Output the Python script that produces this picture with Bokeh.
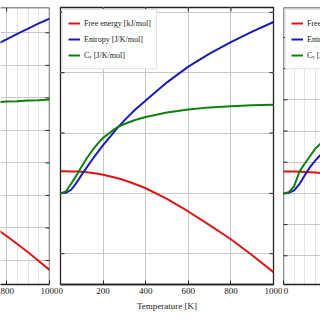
import math
from bokeh.plotting import figure
from bokeh.models import LinearAxis, FixedTicker, Range1d, Legend, LegendItem, Grid, Span
from bokeh.layouts import row
from bokeh.embed import file_html
from bokeh.resources import INLINE

# ---- data ----
# left panel (only its high-temperature tail is visible)
left_T = [760, 800, 850, 900, 950, 1000]
left_F = [-10.6, -12.5, -14.95, -17.5, -20.15, -22.9]
left_S = [46.7, 48.0, 49.7, 51.3, 52.9, 54.4]
left_Cv = [28.7, 28.9, 29.0, 29.2, 29.3, 29.5]

# middle panel
mid_T = [0, 25, 50, 75, 100, 125, 150, 175, 200, 250, 273, 300, 350, 400, 500, 600, 700, 800, 900, 1000]
mid_F = [3.65, 3.65, 3.64, 3.62, 3.57, 3.49, 3.38, 3.24, 3.08, 2.68, 2.46, 2.17, 1.55, 0.85, -0.9, -3.0, -5.25, -7.6, -10.25, -13.05]
mid_S = [0.0, 0.1, 0.6, 1.75, 3.1, 4.4, 5.65, 6.85, 8.0, 10.1, 11.05, 12.1, 13.85, 15.4, 18.4, 21.0, 23.15, 25.05, 26.8, 28.4]
mid_Cv = [0.0, 0.3, 1.6, 3.0, 4.5, 5.9, 7.15, 8.25, 9.2, 10.55, 11.05, 11.5, 12.15, 12.65, 13.4, 13.9, 14.25, 14.45, 14.6, 14.7]

# right panel (only its low-temperature start is visible)
right_T = [0, 25, 50, 75, 100, 125, 150, 175]
right_F = [7.05, 7.04, 7.0, 6.95, 6.88, 6.8, 6.7, 6.55]
right_S = [0.0, 0.15, 1.0, 3.0, 5.8, 8.5, 10.6, 12.4]
right_Cv = [0.0, 0.4, 2.3, 7.0, 9.6, 12.0, 14.4, 16.0]

labels = ["Free energy [kJ/mol]", "Entropy [J/K/mol]", "C\u1d65 [J/K/mol]"]
x_ticks = [0, 200, 400, 600, 800, 1000]
y_ticks_wide = [-20, -10, 0, 10, 20, 30, 40, 50]
y_ticks_mid = [-10, 0, 10, 20, 30]

# ---- style ----
FONT = "Liberation Serif"
RED, BLUE, GREEN = "#dd1515", "#1a1ab8", "#0d800d"
AX = "#222222"
FRAME_H = 277


def panel(xr, yr, fw, bl, br, yticks, sides, T, F, S, Cv, legend=True,
          xlabel=None, outline=True):
    p = figure(x_range=Range1d(*xr), y_range=Range1d(*yr),
               frame_width=fw, frame_height=FRAME_H,
               min_border_left=bl, min_border_right=br,
               min_border_top=7, min_border_bottom=36,
               x_axis_location=None, y_axis_location=None,
               output_backend="svg", toolbar_location=None)
    p.outline_line_color = AX if outline else None
    p.outline_line_width = 1.3
    p.background_fill_color = "white"
    p.border_fill_color = "white"
    p.add_layout(Grid(dimension=0, ticker=FixedTicker(ticks=x_ticks),
                      grid_line_color="#c8c8c8", grid_line_width=1))
    p.add_layout(Grid(dimension=1, ticker=FixedTicker(ticks=yticks),
                      grid_line_color="#c8c8c8", grid_line_width=1))

    bottom = LinearAxis(ticker=FixedTicker(ticks=x_ticks))
    bottom.axis_line_color = AX
    bottom.axis_line_width = 1.3
    bottom.major_tick_line_color = AX
    bottom.major_tick_in = 4
    bottom.major_tick_out = 0
    bottom.minor_tick_in = 0
    bottom.minor_tick_out = 0
    bottom.major_label_text_font = FONT
    bottom.major_label_text_font_size = "9px"
    bottom.major_label_text_color = "#222222"
    bottom.major_label_standoff = 3
    if xlabel:
        bottom.axis_label = xlabel
        bottom.axis_label_text_font = FONT
        bottom.axis_label_text_font_size = "9px"
        bottom.axis_label_text_font_style = "normal"
        bottom.axis_label_text_color = "#222222"
        bottom.axis_label_standoff = 4
    p.add_layout(bottom, "below")

    x0, x1 = xr
    y0, y1 = yr
    if not outline:
        # frame edges that lie inside the picture
        p.add_layout(Span(location=y1, dimension="width", line_color=AX, line_width=1.3))
        if "right" in sides:
            p.add_layout(Span(location=x1, dimension="height", line_color=AX, line_width=1.3))
        if "left" in sides:
            p.add_layout(Span(location=x0, dimension="height", line_color=AX, line_width=1.3))

    # inward tick marks on the label-less sides
    inner_y = [t for t in yticks if y0 < t < y1]
    inner_x = [t for t in x_ticks if x0 < t < x1]
    if "left" in sides:
        p.ray(x=[x0] * len(inner_y), y=inner_y, length=4, length_units="screen",
              angle=0, line_color=AX, line_width=1)
    if "right" in sides:
        p.ray(x=[x1] * len(inner_y), y=inner_y, length=4, length_units="screen",
              angle=math.pi, line_color=AX, line_width=1)
    if "above" in sides:
        p.ray(x=inner_x, y=[y1] * len(inner_x), length=4, length_units="screen",
              angle=-math.pi / 2, line_color=AX, line_width=1)

    r1 = p.line(T, F, line_color=RED, line_width=2)
    r2 = p.line(T, S, line_color=BLUE, line_width=2)
    r3 = p.line(T, Cv, line_color=GREEN, line_width=2)
    if legend:
        lg = Legend(items=[LegendItem(label=labels[0], renderers=[r1]),
                           LegendItem(label=labels[1], renderers=[r2]),
                           LegendItem(label=labels[2], renderers=[r3])],
                    location="top_left")
        lg.margin = 2
        lg.padding = 5
        lg.spacing = 0
        lg.label_height = 16
        lg.glyph_height = 16
        lg.glyph_width = 12
        lg.label_standoff = 4
        lg.label_text_font = FONT
        lg.label_text_font_size = "8px"
        lg.label_text_color = "#222222"
        lg.border_line_color = "#cccccc"
        lg.border_line_width = 1
        lg.background_fill_color = "white"
        lg.background_fill_alpha = 1.0
        p.add_layout(lg)
    return p


left = panel((771.8, 1000), (-27.4, 57.8), 49, 0, 9, y_ticks_wide,
             ["above", "right"], left_T, left_F, left_S, left_Cv,
             legend=False, outline=False)
mid = panel((0, 1000), (-15.1, 30.8), 213, 2, 9, y_ticks_mid,
            ["above", "left", "right"], mid_T, mid_F, mid_S, mid_Cv,
            legend=True, xlabel="Temperature [K]")
right = panel((0, 173.7), (-29.2, 59.6), 37, 1, 0, y_ticks_wide,
              ["above", "left"], right_T, right_F, right_S, right_Cv,
              legend=True, outline=False)

layout = row(left, mid, right, spacing=0)
open("out.html", "w").write(file_html(layout, INLINE))
